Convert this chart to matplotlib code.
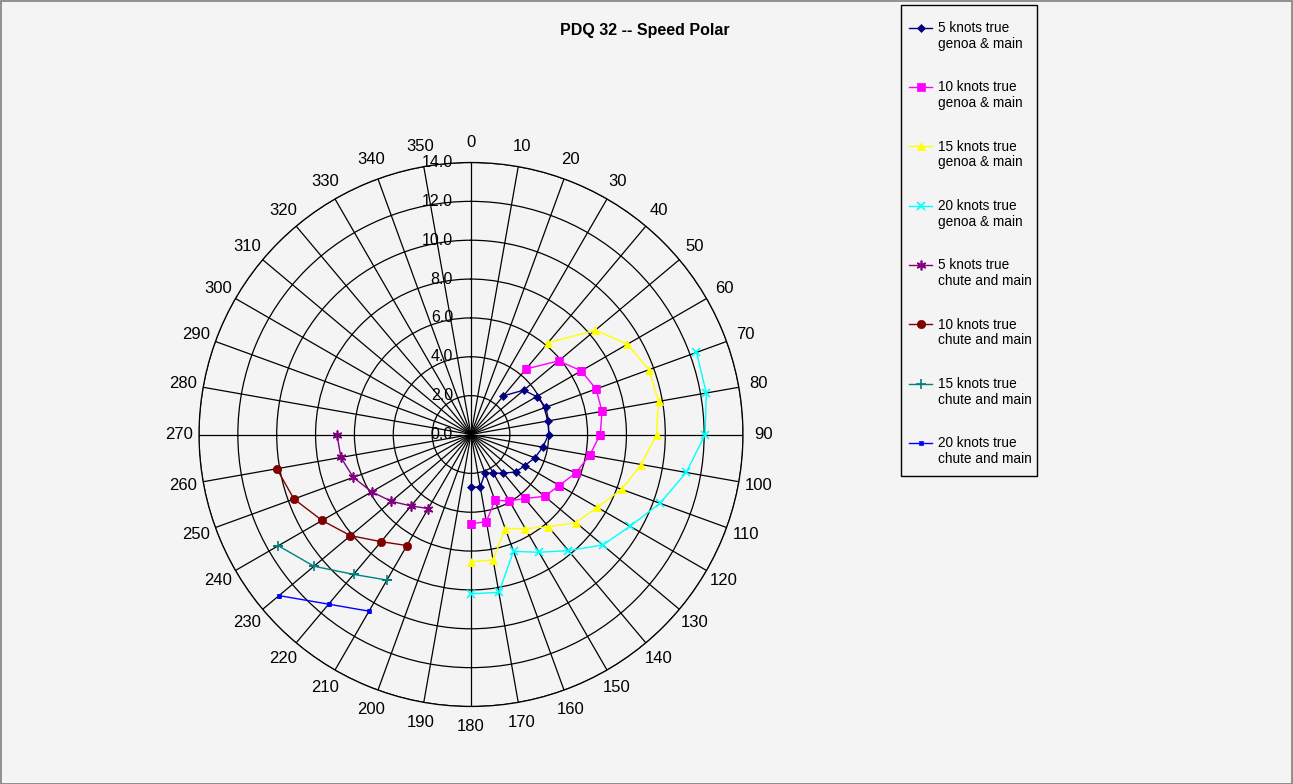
import numpy as np
import matplotlib.pyplot as plt
from matplotlib.patches import Rectangle
from matplotlib.transforms import ScaledTranslation
from matplotlib.legend_handler import HandlerLine2D

plt.rcParams.update(
    {
        "font.family": ["Liberation Sans", "DejaVu Sans"],
        "font.size": 11,
    }
)

# true wind angle (deg) and boat speed (knots)
genoa_angles = [40, 50, 60, 70, 80, 90, 100, 110, 120, 130, 140, 150, 160, 170, 180]
genoa_5 = [2.6, 3.55, 3.9, 4.1, 4.05, 4.0, 3.75, 3.5, 3.2, 3.0, 2.6, 2.3, 2.1, 2.75, 2.7]
genoa_10 = [4.4, 5.9, 6.55, 6.85, 6.85, 6.65, 6.2, 5.75, 5.25, 4.95, 4.3, 3.95, 3.6, 4.55, 4.6]
genoa_15 = [6.15, 8.35, 9.3, 9.75, 9.8, 9.55, 8.9, 8.25, 7.5, 7.05, 6.2, 5.6, 5.15, 6.55, 6.55]
genoa20_angles = [70, 80, 90, 100, 110, 120, 130, 140, 150, 160, 170, 180]
genoa_20 = [12.35, 12.3, 12.05, 11.25, 10.35, 9.45, 8.85, 7.8, 7.0, 6.4, 8.25, 8.2]

chute5_angles = [270, 260, 250, 240, 230, 220, 210]
chute_5 = [6.9, 6.8, 6.45, 5.9, 5.35, 4.8, 4.4]
chute10_angles = [260, 250, 240, 230, 220, 210]
chute_10 = [10.15, 9.7, 8.85, 8.1, 7.2, 6.6]
chute15_angles = [240, 230, 220, 210]
chute_15 = [11.45, 10.55, 9.4, 8.65]
chute20_angles = [230, 220, 210]
chute_20 = [12.9, 11.4, 10.5]

r_ticks = np.arange(0, 15, 2)
theta_ticks = np.arange(0, 360, 10)

series = [
    ("5 knots true\ngenoa & main", genoa_angles, genoa_5, "#000080", "D", 4),
    ("10 knots true\ngenoa & main", genoa_angles, genoa_10, "#ff00ff", "s", 6),
    ("15 knots true\ngenoa & main", genoa_angles, genoa_15, "#ffff00", "^", 6),
    ("20 knots true\ngenoa & main", genoa20_angles, genoa_20, "#00ffff", "x", 6),
    ("5 knots true\nchute and main", chute5_angles, chute_5, "#800080", (6, 2, 0), 7),
    ("10 knots true\nchute and main", chute10_angles, chute_10, "#800000", "o", 6),
    ("15 knots true\nchute and main", chute15_angles, chute_15, "#008080", "+", 7),
    ("20 knots true\nchute and main", chute20_angles, chute_20, "#0000ff", "s", 2.5),
]


class FirstLineHandler(HandlerLine2D):
    # legend sample sits next to the first line of the two-line label
    def create_artists(self, legend, orig_handle, xdescent, ydescent, width, height,
                       fontsize, trans):
        return super().create_artists(legend, orig_handle, xdescent,
                                      ydescent - 1.3 * fontsize, width, height,
                                      fontsize, trans)


W, H = 1293, 784
bg = "#f4f4f4"
fig = plt.figure(figsize=(W / 100, H / 100), dpi=100, facecolor=bg)
fig.patches.append(
    Rectangle((0.5 / W, 0.5 / H), 1 - 1.5 / W, 1 - 1.5 / H, transform=fig.transFigure,
              fill=False, edgecolor="#7f7f7f", lw=1.2)
)
# legend box
fig.patches.append(
    Rectangle((901 / W, 1 - 476 / H), 136 / W, 471 / H, transform=fig.transFigure,
              facecolor=bg, edgecolor="black", lw=1)
)

cx, cy, rad = 471, 434.5, 272
ax = fig.add_axes([(cx - rad) / W, (H - cy - rad) / H, 2 * rad / W, 2 * rad / H],
                  projection="polar")
ax.set_facecolor("none")
ax.set_theta_zero_location("N")
ax.set_theta_direction(-1)
ax.set_ylim(0, 14)
ax.set_yticks(r_ticks)
ax.set_yticklabels([])
ax.set_thetagrids(theta_ticks, [str(t) for t in theta_ticks], fontsize=12)
ax.tick_params(axis="x", pad=4)
ax.grid(True, color="black", lw=0.9)
ax.spines["polar"].set_color("black")
ax.spines["polar"].set_linewidth(0.9)

off = ax.transData + ScaledTranslation(-18 / 100, 0, fig.dpi_scale_trans)
for r in r_ticks:
    ax.text(0, r, f"{r:.1f}", ha="right", va="center", fontsize=11.5, transform=off)

handles = []
for label, ang, vals, col, mk, ms in series:
    (ln,) = ax.plot(np.deg2rad(ang), vals, color=col, lw=1, marker=mk, markersize=ms,
                    markeredgewidth=1.2 if mk in ("x", "+") or isinstance(mk, tuple) else 0.5,
                    markeredgecolor=col, label=label)
    handles.append(ln)

fig.text(645 / W, 1 - 31 / H, "PDQ 32 -- Speed Polar", ha="center", va="center",
         fontsize=11.5, fontweight="bold")

leg = fig.legend(handles=handles, loc="upper left", bbox_to_anchor=(909 / W, 1 - 21 / H),
                 borderaxespad=0, borderpad=0, fontsize=9.8, frameon=False,
                 labelspacing=2.18, handlelength=1.7, handletextpad=0.44,
                 handler_map={ln: FirstLineHandler() for ln in handles})
for t in leg.get_texts():
    t.set_linespacing(1.15)

fig.savefig("out.png", dpi=100, facecolor=fig.get_facecolor())
